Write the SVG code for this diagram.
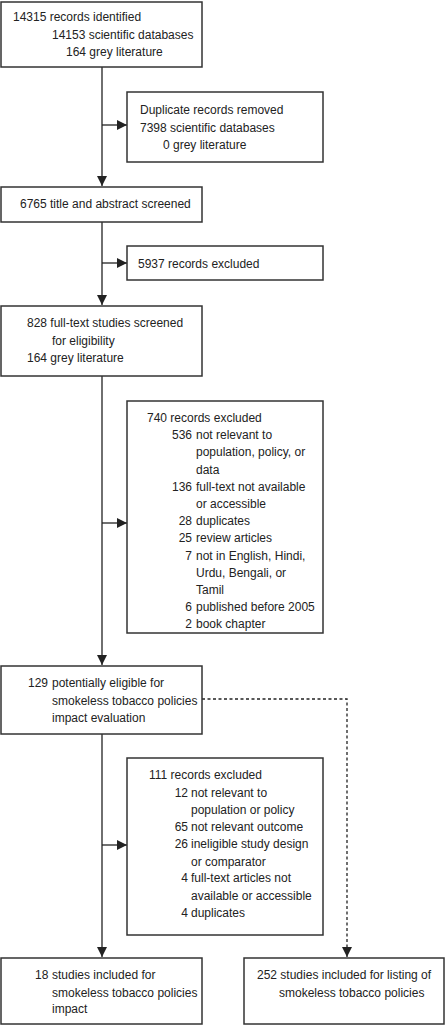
<svg xmlns="http://www.w3.org/2000/svg" width="446" height="1027" viewBox="0 0 446 1027">
<defs>
<marker id="ah" viewBox="0 0 10 10" refX="10" refY="5" markerWidth="10" markerHeight="10" markerUnits="userSpaceOnUse" orient="auto">
<path d="M0,0 L10,5 L0,10 Z" fill="#222"/>
</marker>
</defs>
<style>
rect{fill:#fff;stroke:#333;stroke-width:1.5}
text{font-family:"Liberation Sans",Arial,sans-serif;font-size:12px;fill:#222}
.n{text-anchor:end}
.c{fill:none;stroke:#222;stroke-width:1.3}
.d{fill:none;stroke:#222;stroke-width:1.3;stroke-dasharray:3,2.5}
</style>
<rect x="0" y="0" width="446" height="1027" style="fill:#fff;stroke:none"/>
<g id="connectors">
<line class="c" x1="102" y1="67" x2="102" y2="186" marker-end="url(#ah)"/>
<line class="c" x1="102" y1="125" x2="127" y2="125" marker-end="url(#ah)"/>
<line class="c" x1="102" y1="222" x2="102" y2="305" marker-end="url(#ah)"/>
<line class="c" x1="102" y1="263" x2="127" y2="263" marker-end="url(#ah)"/>
<line class="c" x1="102" y1="376" x2="102" y2="665" marker-end="url(#ah)"/>
<line class="c" x1="102" y1="523" x2="127" y2="523" marker-end="url(#ah)"/>
<line class="c" x1="102" y1="734" x2="102" y2="957" marker-end="url(#ah)"/>
<line class="c" x1="102" y1="845" x2="127" y2="845" marker-end="url(#ah)"/>
<path class="d" d="M202,699 H347 V948"/>
<line class="c" x1="347" y1="948" x2="347" y2="957" marker-end="url(#ah)"/>
</g>
<g id="n1">
<rect x="1" y="2" width="201" height="65"/>
<text x="13" y="21">14315 records identified</text>
<text x="52" y="39">14153 scientific databases</text>
<text x="66" y="56">164 grey literature</text>
</g>
<g id="n2">
<rect x="127" y="92" width="196" height="70"/>
<text x="140" y="114">Duplicate records removed</text>
<text x="140" y="132">7398 scientific databases</text>
<text x="163" y="149">0 grey literature</text>
</g>
<g id="n3">
<rect x="1" y="187" width="201" height="35"/>
<text x="20" y="208">6765 title and abstract screened</text>
</g>
<g id="n4">
<rect x="127" y="246" width="196" height="34"/>
<text x="138" y="268">5937 records excluded</text>
</g>
<g id="n5">
<rect x="1" y="306" width="201" height="70"/>
<text x="27" y="327">828 full-text studies screened</text>
<text x="52" y="345">for eligibility</text>
<text x="27" y="362">164 grey literature</text>
</g>
<g id="n6">
<rect x="127" y="401" width="196" height="232"/>
<text x="147" y="422">740 records excluded</text>
<text class="n" x="192" y="439.2">536</text><text x="196" y="439.2">not relevant to</text>
<text x="196" y="456.4">population, policy, or</text>
<text x="196" y="473.6">data</text>
<text class="n" x="192" y="490.8">136</text><text x="196" y="490.8">full-text not available</text>
<text x="196" y="508">or accessible</text>
<text class="n" x="192" y="525.2">28</text><text x="196" y="525.2">duplicates</text>
<text class="n" x="192" y="542.4">25</text><text x="196" y="542.4">review articles</text>
<text class="n" x="192" y="559.6">7</text><text x="196" y="559.6">not in English, Hindi,</text>
<text x="196" y="576.8">Urdu, Bengali, or</text>
<text x="196" y="594">Tamil</text>
<text class="n" x="192" y="611.2">6</text><text x="196" y="611.2">published before 2005</text>
<text class="n" x="192" y="628.4">2</text><text x="196" y="628.4">book chapter</text>
</g>
<g id="n7">
<rect x="1" y="666" width="201" height="68"/>
<text x="28" y="687">129</text><text x="52" y="687">potentially eligible for</text>
<text x="52" y="705">smokeless tobacco policies</text>
<text x="52" y="722">impact evaluation</text>
</g>
<g id="n8">
<rect x="127" y="758" width="196" height="177"/>
<text x="149" y="779">111 records excluded</text>
<text class="n" x="188" y="796.7">12</text><text x="191" y="796.7">not relevant to</text>
<text x="191" y="814">population or policy</text>
<text class="n" x="188" y="831.3">65</text><text x="191" y="831.3">not relevant outcome</text>
<text class="n" x="188" y="848.3">26</text><text x="191" y="848.3">ineligible study design</text>
<text x="191" y="865.7">or comparator</text>
<text class="n" x="188" y="882.3">4</text><text x="191" y="882.3">full-text articles not</text>
<text x="191" y="899.7">available or accessible</text>
<text class="n" x="188" y="917.3">4</text><text x="191" y="917.3">duplicates</text>
</g>
<g id="n9">
<rect x="1" y="958" width="201" height="66"/>
<text x="35" y="979">18</text><text x="52" y="979">studies included for</text>
<text x="52" y="996.5">smokeless tobacco policies</text>
<text x="52" y="1013">impact</text>
</g>
<g id="n10">
<rect x="244" y="958" width="200" height="66"/>
<text x="257" y="979">252 studies included for listing of</text>
<text x="279" y="996.5">smokeless tobacco policies</text>
</g>
</svg>
